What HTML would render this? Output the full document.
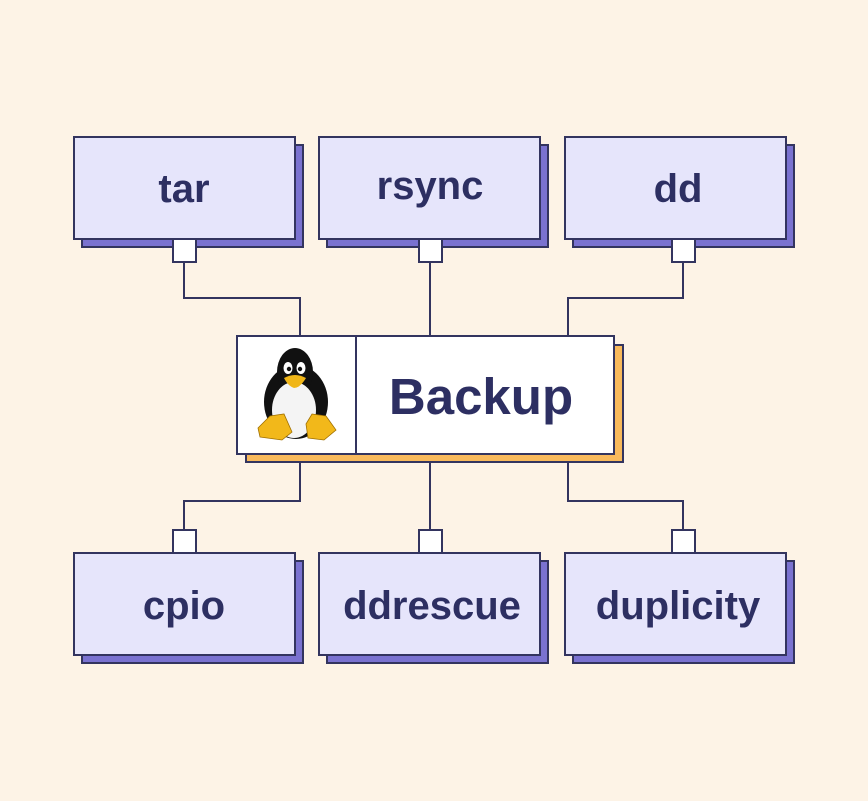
<!DOCTYPE html>
<html><head><style>
html,body{margin:0;padding:0;background:#fdf3e6;}
svg{display:block;}
text{font-family:"Liberation Sans",sans-serif;font-weight:bold;fill:#2d2f62;text-anchor:middle;}
</style></head><body>
<svg width="868" height="801" viewBox="0 0 868 801" xmlns="http://www.w3.org/2000/svg">
<rect width="868" height="801" fill="#fdf3e6"/>
<g stroke="#33345f" stroke-width="2" fill="none">
<polyline points="184,262 184,298 300,298 300,336"/>
<polyline points="430,262 430,336"/>
<polyline points="683,262 683,298 568,298 568,336"/>
<polyline points="300,462 300,501 184,501 184,530"/>
<polyline points="430,462 430,530"/>
<polyline points="568,462 568,501 683,501 683,530"/>
</g>
<g stroke="#33345f" stroke-width="2">
<rect x="82" y="145" width="221" height="102" fill="#7a72d0"/>
<rect x="74" y="137" width="221" height="102" fill="#e6e5fb"/>
<rect x="327" y="145" width="221" height="102" fill="#7a72d0"/>
<rect x="319" y="137" width="221" height="102" fill="#e6e5fb"/>
<rect x="573" y="145" width="221" height="102" fill="#7a72d0"/>
<rect x="565" y="137" width="221" height="102" fill="#e6e5fb"/>
<rect x="82" y="561" width="221" height="102" fill="#7a72d0"/>
<rect x="74" y="553" width="221" height="102" fill="#e6e5fb"/>
<rect x="327" y="561" width="221" height="102" fill="#7a72d0"/>
<rect x="319" y="553" width="221" height="102" fill="#e6e5fb"/>
<rect x="573" y="561" width="221" height="102" fill="#7a72d0"/>
<rect x="565" y="553" width="221" height="102" fill="#e6e5fb"/>
<rect x="246" y="345" width="377" height="117" fill="#f8b95c"/>
<rect x="237" y="336" width="377" height="118" fill="#ffffff"/>
<line x1="356" y1="336" x2="356" y2="454"/>
<rect x="173" y="239" width="23" height="23" fill="#fff"/>
<rect x="419" y="239" width="23" height="23" fill="#fff"/>
<rect x="672" y="239" width="23" height="23" fill="#fff"/>
<rect x="173" y="530" width="23" height="23" fill="#fff"/>
<rect x="419" y="530" width="23" height="23" fill="#fff"/>
<rect x="672" y="530" width="23" height="23" fill="#fff"/>
</g>
<!-- penguin -->
<g>
<ellipse cx="296" cy="402" rx="32" ry="37" fill="#111"/>
<ellipse cx="295" cy="372" rx="18" ry="24" fill="#111"/>
<ellipse cx="294" cy="410" rx="22" ry="28" fill="#f4f4f4"/>
<ellipse cx="288" cy="368" rx="4.5" ry="6" fill="#fff"/>
<ellipse cx="301" cy="368" rx="4.5" ry="6" fill="#fff"/>
<circle cx="289" cy="369" r="2.2" fill="#111"/>
<circle cx="300" cy="369" r="2.2" fill="#111"/>
<path d="M284,378 Q295,372 306,378 Q300,388 294,388 Q288,386 284,378Z" fill="#f0b618"/>
<path d="M270,416 L284,414 L292,432 L282,440 L260,437 L258,428Z" fill="#f2b81a" stroke="#a07000" stroke-width="0.8"/>
<path d="M312,414 L326,416 L336,430 L324,440 L308,438 L306,424Z" fill="#f2b81a" stroke="#a07000" stroke-width="0.8"/>
</g>
<text x="184" y="202" font-size="40">tar</text>
<text x="430" y="199" font-size="40">rsync</text>
<text x="678" y="202" font-size="40">dd</text>
<text x="184" y="619" font-size="40">cpio</text>
<text x="432" y="619" font-size="40">ddrescue</text>
<text x="678" y="619" font-size="40">duplicity</text>
<text x="481" y="414" font-size="51">Backup</text>
</svg>
</body></html>
